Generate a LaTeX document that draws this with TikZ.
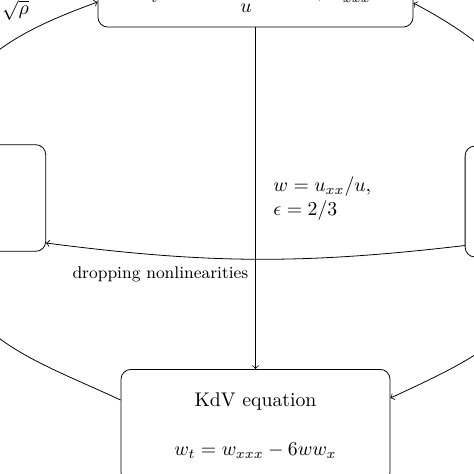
\documentclass[tikz,border=0pt]{standalone}
\usepackage{amsmath,amssymb}

\tikzset{
	eqbox/.style={draw, rounded corners=5pt, align=center},
	sidebox/.style={eqbox, minimum width=107pt, minimum height=54pt}
}

\begin{document}
\begin{tikzpicture}[x=0.5063pt,y=0.5063pt]
\useasboundingbox (0,0) rectangle (474,-474);
\clip (0,0) rectangle (474,-474);
% the four equations
\node[eqbox, anchor=south, minimum width=159.5pt, inner ysep=7.2pt] (eqtop) at (255.5,-27.5)
	{$u_t = \dfrac{2\epsilon\,u_x u_{xx} + u_x^3}{u} + u_{xxx}$};
\node[eqbox, anchor=north, minimum width=136.2pt, inner ysep=12pt] (kdv) at (255.5,-369)
	{KdV equation\\[12.8pt] $w_t = w_{xxx} - 6ww_x$};
\node[sidebox] (eqleft) at (-60,-198) {};
\node[sidebox, minimum width=91pt, minimum height=56.2pt] (eqright) at (555,-201.5) {};
% transformations
\draw[->] (eqtop.south) -- node[right=5.5pt, align=left] {$w = u_{xx}/u$,\\ $\epsilon = 2/3$} (kdv.north);
\draw[->] (eqright.206.8) to[bend left=7] node[below left, font=\fontsize{8.6pt}{10pt}\selectfont] {dropping nonlinearities} (eqleft.337);
\draw[->] (eqleft.north) to[out=80, in=200] node[pos=0.72, above left] {$u = \sqrt{\rho}$} ([yshift=12.9pt]eqtop.south west);
\draw[->] (eqright.north) to[out=115, in=-28] ([yshift=12.4pt]eqtop.south east);
\draw[->] (eqright.south) to[out=-110, in=25] ([yshift=-14.7pt]kdv.north east);
\draw[->] ([yshift=-15.7pt]kdv.north west) to[out=155, in=-75] (eqleft.south);
\end{tikzpicture}
\end{document}
